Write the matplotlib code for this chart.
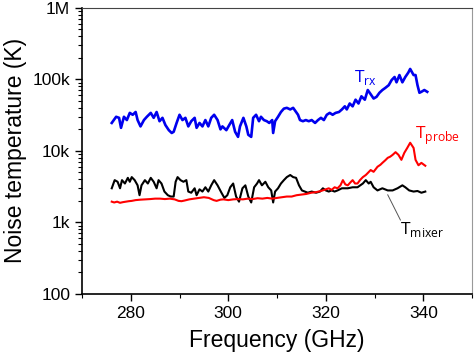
import numpy as np
import matplotlib
matplotlib.use("Agg")
import matplotlib.pyplot as plt
from matplotlib.ticker import FixedLocator, FixedFormatter, LogLocator, MultipleLocator, NullFormatter

plt.rcParams['font.family'] = ['Liberation Sans', 'DejaVu Sans']
plt.rcParams['mathtext.fontset'] = 'custom'
plt.rcParams['mathtext.rm'] = 'Open Sans'

# T_rx (blue), frequency in GHz, temperature in kK
f_rx = [276.1, 277.0, 277.6, 278.0, 278.6, 279.2, 279.8, 280.4, 281.0, 281.4, 282.0, 282.7,
        283.3, 284.1, 284.7, 285.3, 285.9, 286.5, 287.1, 287.8, 288.4, 288.8, 289.4, 290.0,
        290.6, 291.2, 291.8, 292.4, 293.1, 293.5, 294.1, 294.7, 295.3, 295.9, 296.5, 297.1,
        297.8, 298.4, 298.8, 299.6, 300.2, 300.8, 301.4, 302.0, 302.4, 303.1, 303.7, 304.1,
        304.7, 305.1, 305.7, 306.3, 306.7, 307.3, 307.9, 308.4, 309.0, 309.2, 309.6, 310.2,
        310.8, 311.4, 312.0, 312.7, 313.3, 313.9, 314.3, 314.7, 315.3, 315.9, 316.5, 317.1,
        317.8, 318.4, 319.0, 319.6, 320.2, 320.8, 321.4, 322.0, 322.7, 323.3, 323.9, 324.3,
        324.9, 325.5, 326.1, 326.7, 327.3, 328.0, 328.6, 329.2, 329.8, 330.4, 331.0, 331.6,
        332.2, 332.9, 333.5, 334.1, 334.5, 335.1, 335.7, 336.3, 336.9, 337.3, 338.0, 338.4,
        338.8, 339.2, 339.6, 340.2, 340.8]
t_rx = [24.6, 30, 29, 21, 30, 27, 34, 32, 35, 27, 22, 27,
        30, 34, 29, 35, 26, 29, 23, 19.5, 17.8, 18.5, 24.6, 32,
        27, 29, 22, 26, 29, 21, 24.6, 22, 27, 22, 29, 32,
        27, 20, 22, 19.5, 23, 27, 18.5, 15.7, 22, 29, 22, 16.8,
        15.7, 29, 32, 26, 30, 27, 26, 24.6, 27, 17.8, 26, 30,
        35, 39, 40, 38, 40, 35, 32, 27, 26, 27, 26, 27,
        24.6, 27, 29, 27, 32, 34, 32, 34, 35, 38, 42, 38,
        46, 42, 52, 46, 58, 52, 71, 62, 54, 57, 65, 71,
        76, 83, 98, 108, 91, 115, 91, 108, 124, 140, 115, 115,
        83, 65, 67, 71, 67]

# T_probe (red)
f_probe = [276.1, 276.6, 277.2, 277.8, 278.4, 279.0, 279.6, 280.2, 281.0, 282.0, 283.0, 284.0,
           285.0, 286.0, 287.0, 288.0, 289.0, 289.8, 290.4, 291.0, 292.0, 293.0, 294.0, 295.0,
           296.0, 297.0, 297.6, 298.4, 299.0, 300.0, 301.0, 302.0, 303.0, 304.0, 305.0, 306.0,
           307.0, 308.0, 309.0, 310.0, 311.0, 312.0, 313.0, 314.0, 315.0, 316.0, 317.0, 318.0,
           319.0, 320.0, 320.6, 321.2, 321.8, 322.4, 323.0, 323.5, 324.0, 324.5, 325.0, 325.5,
           326.0, 326.5, 327.0, 327.6, 328.2, 328.6, 329.2, 329.8, 330.6, 331.2, 331.6, 332.2,
           332.7, 333.2, 333.7, 334.3, 334.9, 335.5, 336.1, 336.7, 337.3, 338.0, 338.4, 339.0,
           339.6, 340.4]
t_probe = [1.95, 1.9, 1.95, 1.88, 1.92, 1.95, 1.98, 2.0, 2.05, 2.08, 2.1, 2.12,
           2.15, 2.15, 2.12, 2.15, 2.1, 2.0, 1.98, 2.02, 2.1, 2.15, 2.2, 2.25,
           2.2, 2.05, 2.0, 2.08, 2.1, 2.05, 2.1, 2.12, 2.1, 2.15, 2.12, 2.18,
           2.15, 2.2, 2.15, 2.2, 2.25, 2.3, 2.3, 2.4, 2.45, 2.5, 2.6, 2.65,
           2.75, 2.9, 3.0, 2.85, 3.1, 3.0, 3.3, 3.9, 3.4, 3.3, 3.6, 3.9,
           3.5, 3.5, 3.9, 4.3, 4.6, 4.9, 5.4, 5.1, 6.0, 6.4, 6.8, 7.4,
           8.0, 8.3, 8.8, 9.6, 8.8, 7.5, 9.4, 11, 13, 11, 7.5, 6.3,
           6.8, 6.2]

# T_mixer (black)
f_mix = [276.1, 276.7, 277.3, 277.8, 278.2, 278.8, 279.4, 279.8, 280.2, 280.8, 281.4, 281.8,
         282.2, 282.9, 283.5, 284.1, 284.7, 285.3, 285.7, 286.3, 286.9, 287.6, 288.2, 288.8,
         289.2, 289.6, 290.2, 290.8, 291.4, 291.8, 292.4, 293.1, 293.5, 294.1, 294.7, 295.3,
         295.9, 296.5, 297.1, 297.8, 298.6, 299.2, 299.8, 300.4, 301.0, 301.6, 302.2, 302.9,
         303.5, 304.1, 304.7, 305.3, 305.9, 306.3, 306.9, 307.6, 308.2, 308.8, 309.2, 309.6,
         310.2, 310.8, 311.4, 312.0, 312.7, 313.3, 313.9, 314.5, 315.1, 315.7, 316.3, 317.1,
         318.0, 318.8, 319.4, 320.0, 320.6, 321.2, 321.8, 322.4, 323.3, 324.5, 325.5, 326.5,
         327.6, 328.2, 328.8, 329.2, 329.8, 330.6, 331.6, 332.7, 333.7, 334.7, 335.7, 336.3,
         337.1, 338.0, 338.8, 339.6, 340.4]
t_mix = [3.0, 3.9, 3.7, 3.0, 3.9, 3.5, 4.2, 3.7, 4.3, 3.9, 3.3, 2.4,
         3.3, 3.9, 3.5, 4.2, 3.7, 3.0, 3.9, 3.5, 2.7, 2.4, 2.3, 2.3,
         3.7, 4.3, 3.9, 3.7, 3.9, 2.7, 2.6, 3.0, 2.4, 2.9, 2.7, 3.1,
         2.7, 3.3, 3.9, 3.3, 2.6, 2.2, 2.4, 3.1, 3.5, 2.3, 1.95, 3.0,
         3.3, 2.3, 1.9, 3.1, 3.5, 3.9, 3.3, 3.7, 3.1, 2.8, 1.9, 2.7,
         3.0, 3.5, 3.9, 4.3, 4.6, 4.3, 4.2, 3.3, 2.8, 2.7, 2.6, 2.7,
         2.6, 2.7, 3.0, 2.8, 2.7, 2.8, 2.7, 2.8, 3.0, 3.0, 3.1, 3.1,
         3.5, 3.9, 3.5, 3.7, 3.1, 2.8, 3.0, 2.8, 2.8, 3.0, 3.3, 3.1,
         2.8, 2.7, 2.75, 2.6, 2.7]

y_ticks = [100, 1e3, 1e4, 1e5, 1e6]
y_labels = ['100', '1k', '10k', '100k', '1M']

fig = plt.figure(figsize=(4.74, 3.58), dpi=100)
ax = fig.add_axes([0.173, 0.179, 0.823, 0.799])

ax.plot(f_rx, np.array(t_rx) * 1000, color='#0000ee', lw=1.9)
ax.plot(f_mix, np.array(t_mix) * 1000, color='black', lw=1.5)
ax.plot(f_probe, np.array(t_probe) * 1000, color='#ff0000', lw=1.5)

ax.set_yscale('log')
ax.set_ylim(100, 1e6)
ax.set_xlim(270, 350)
ax.yaxis.set_major_locator(FixedLocator(y_ticks))
ax.yaxis.set_major_formatter(FixedFormatter(y_labels))
ax.yaxis.set_minor_locator(LogLocator(base=10, subs=np.arange(2, 10)))
ax.yaxis.set_minor_formatter(NullFormatter())
ax.xaxis.set_major_locator(FixedLocator([280, 300, 320, 340]))
ax.xaxis.set_minor_locator(MultipleLocator(10))

ax.tick_params(which='both', direction='out', top=False, right=False, labelsize=12.5)
ax.tick_params(which='major', length=5, width=1)
ax.tick_params(which='minor', length=3, width=0.8)
for s in ['left', 'bottom']:
    ax.spines[s].set_linewidth(1.2)
ax.spines['top'].set_color('#444444')
ax.spines['right'].set_color('#999999')

ax.set_xlabel('Frequency (GHz)', fontsize=16.5, labelpad=6)
ax.set_ylabel('Noise temperature (K)', fontsize=16.5, labelpad=4)

ax.text(325.7, 1.07e5, r'T$_{\rm rx}$', color='#0000ee', fontsize=12.5,
        family='Open Sans', va='center')
ax.text(338.2, 1.6e4, r'T$_{\rm probe}$', color='#ff0000', fontsize=12.5,
        family='Open Sans', va='center')
ax.text(335.3, 790, r'T$_{\rm mixer}$', color='black', fontsize=12.5,
        family='Open Sans', va='center')
ax.plot([332.7, 335.3], [2430, 1080], color='#555555', lw=0.7)

fig.savefig('out.png', dpi=100)
